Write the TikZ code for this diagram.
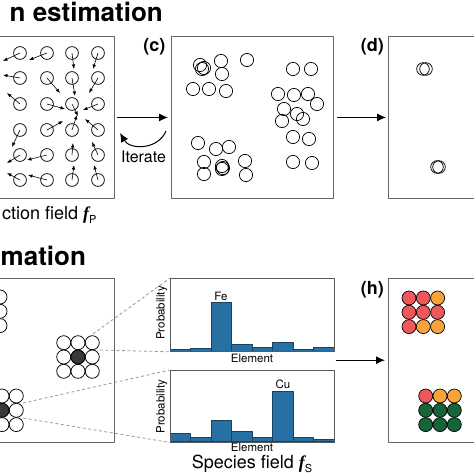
\documentclass[tikz,border=0pt]{standalone}
\usepackage{fontspec}
\setmainfont{TeX Gyre Heros}
\setsansfont{TeX Gyre Heros}
\newfontfamily\fsym{Liberation Serif}
\usetikzlibrary{positioning,arrows.meta}

% Feldsymbol mit Index
\newcommand{\fieldsym}[1]{{\fsym\bfseries\itshape f}\raisebox{-0.45ex}{\fontsize{11}{11}\selectfont #1}}

\begin{document}
\begin{tikzpicture}[x=1pt, y=-1pt, font=\sffamily, line join=round,
    panel/.style={rectangle, draw=black!60, line width=0.9pt, inner sep=0pt},
    histbox/.style={rectangle, draw=black!65, line width=0.8pt, inner sep=0pt, minimum width=164pt, anchor=north west},
    atom/.style={draw=black, line width=0.75pt},
    field/.style={-{Latex[length=4.5pt,width=3.5pt]}, line width=0.6pt},
    flow/.style={-{Latex[length=9pt,width=8pt]}, line width=1pt},
    zoomline/.style={draw=black!40, line width=0.8pt, dash pattern=on 3pt off 2.5pt},
    bar/.style={fill=barblue, draw=barblue!60!black, line width=0.5pt},
    plabel/.style={anchor=base east, inner sep=0pt, font=\fontsize{18}{18}\selectfont\bfseries},
    axlabel/.style={inner sep=0pt, font=\fontsize{11.5}{12}\selectfont},
    bigtext/.style={inner sep=0pt, font=\fontsize{18}{18}\selectfont},
    headline/.style={inner sep=0pt, font=\fontsize{26}{26}\selectfont\bfseries}]

    % Farben definieren
    \definecolor{barblue}{RGB}{38,112,163}
    \definecolor{atomred}{RGB}{238,88,92}
    \definecolor{atomorange}{RGB}{248,163,58}
    \definecolor{atomgreen}{RGB}{22,100,58}

    \fill[white] (0,0) rectangle (474,474);
    \useasboundingbox (0,0) rectangle (474,474);

    % --- Ueberschriften ---
    \node[headline, anchor=base east] (headTop) at (163,21) {n estimation};
    \node[headline, anchor=base west] (headBottom) at (0.5,265) {mation};

    % --- Rahmen oben ---
    \node[panel, minimum width=200pt, minimum height=162pt, anchor=north east] (pb) at (115,36) {};
    \node[panel, minimum width=162pt, minimum height=162pt, anchor=north west] (pc) at (171,36) {};
    \node[panel, minimum width=120pt, minimum height=162pt, anchor=north west] (pd) at (388,36) {};
    \node[plabel] (lc) at (165.5,51) {(c)};
    \node[plabel] (ld) at (384,51) {(d)};

    % Verschiebungsfeld
    \foreach \x/\y/\u/\v in {20/53/3/61, 47/53/29/60, 72/53/74/69, 98/53/93/69,
        20/78/3/75, 47/78/60/93, 72/78/75/96, 98/78/89/93,
        20/104/7/93, 47/104/65/109, 72/104/78/116, 98/104/83/110,
        20/130/12/147, 47/130/63/121, 72/130/77/115, 98/130/85/119,
        20/155/7/163, 47/155/27/160, 72/155/73/143, 98/155/92/142,
        20/180/7/173, 47/180/28/175, 72/180/74/165, 98/180/94/165} {
      \draw[atom] (\x,\y) circle[radius=6.4];
      \draw[field] (\x,\y) -- (\u,\v);
    }
    \node[bigtext, anchor=base west] (fieldP) at (2,219) {ction field \fieldsym{P}};

    % Atome nach einem Schritt
    \foreach \x/\y in {200/65, 202/69, 204/68, 221/61, 222/74, 247/60, 193/89, 209/89, 226/91,
        293/69, 311/69, 278/94, 294/95, 308/94, 317/104, 284/109, 297/114, 303/119, 282/121,
        293/137, 309/139, 293/162, 312/163,
        198/143, 216/149, 229/147, 204/162, 204/174, 222/166, 223/168, 222/169, 245/161, 246/175}
      \draw[atom] (\x,\y) circle[radius=6.6];

    % Endpositionen
    \foreach \x/\y in {423/69, 426/69, 437/167, 439/167}
      \draw[atom] (\x,\y) circle[radius=6.3];

    \draw[flow, shorten <=2pt, shorten >=3pt] (pb.east) -- (pc.west);
    \draw[flow, shorten <=3pt, shorten >=2pt] (pc.east) -- (pd.west);

    % Iterate-Pfeil
    \coordinate (itA) at (166,131);
    \coordinate (itB) at (120,133);
    \draw[flow] (itA) .. controls (158,150) and (130,150) .. (itB);
    \node[inner sep=0pt, anchor=base, font=\fontsize{16}{16}\selectfont] (iter) at (143.5,162) {Iterate};

    % --- Rahmen unten ---
    \node[panel, minimum width=200pt, minimum height=164pt, anchor=north east] (pf) at (115,277.5) {};
    \node[panel, minimum width=120pt, minimum height=163.5pt, anchor=north west] (ph) at (388,278) {};
    \node[plabel] (lh) at (384,294) {(h)};

    % Histogramme
    \foreach \h [count=\i from 0] in {2,3,49,7,4,9,2,4}
      \draw[bar] (170+\i*20.5,351) rectangle ++(20.5,-\h);
    \foreach \h [count=\i from 0] in {8,4,21,10,4,50,4,2.3}
      \draw[bar] (170+\i*20.5,441.7) rectangle ++(20.5,-\h);
    \node[histbox, minimum height=73pt] (histFe) at (170,278) {};
    \node[histbox, minimum height=71.7pt] (histCu) at (170,370) {};

    \node[axlabel] (fe) at (221,296) {Fe};
    \node[axlabel] (cu) at (283,384) {Cu};
    \node[axlabel, rotate=90] (probFe) at (161.7,313) {Probability};
    \node[axlabel, rotate=90] (probCu) at (161.7,406.7) {Probability};
    \node[axlabel] (elFe) at (252,358) {Element};
    \node[axlabel] (elCu) at (252,447.5) {Element};
    \node[bigtext, anchor=base] (fieldS) at (252,468.5) {Species field \fieldsym{S}};

    % Zoom-Linien
    \coordinate (zA1) at (93,334);
    \coordinate (zA2) at (100,350);
    \coordinate (zB1) at (23,403);
    \coordinate (zB2) at (23,418);
    \draw[zoomline] (zA1) -- (histFe.north west);
    \draw[zoomline] (zA2) -- (histFe.south west);
    \draw[zoomline] (zB1) -- (histCu.north west);
    \draw[zoomline] (zB2) -- (histCu.south west);

    % Nachbarschaften
    \foreach \cx/\cy in {-14.3/311.3, 78/357, 2/410.3}
      \foreach \i in {-1,0,1}
        \foreach \j in {-1,0,1}
          \draw[atom, fill=white] (\cx+\i*14.3,\cy+\j*14.3) circle[radius=7];
    \draw[atom, fill=black!78] (78,357) circle[radius=7];
    \draw[atom, fill=black!78] (2,410.3) circle[radius=7];

    \draw[flow, shorten <=1pt, shorten >=3pt] (histFe.east |- ph.west) -- (ph.west);

    % Ergebnis mit Elementfarben
    \foreach \x/\y/\c in {409/298/atomred, 423.3/298/atomred, 437.6/298/atomorange,
        409/312.3/atomred, 423.3/312.3/atomred, 437.6/312.3/atomred,
        409/326.6/atomred, 423.3/326.6/atomorange, 437.6/326.6/atomorange,
        425.7/396/atomred, 440/396/atomorange, 454.3/396/atomorange,
        425.7/410.3/atomgreen, 440/410.3/atomgreen, 454.3/410.3/atomgreen,
        425.7/424.6/atomgreen, 440/424.6/atomgreen, 454.3/424.6/atomgreen}
      \draw[atom, line width=0.7pt, fill=\c] (\x,\y) circle[radius=7];

\end{tikzpicture}
\end{document}
